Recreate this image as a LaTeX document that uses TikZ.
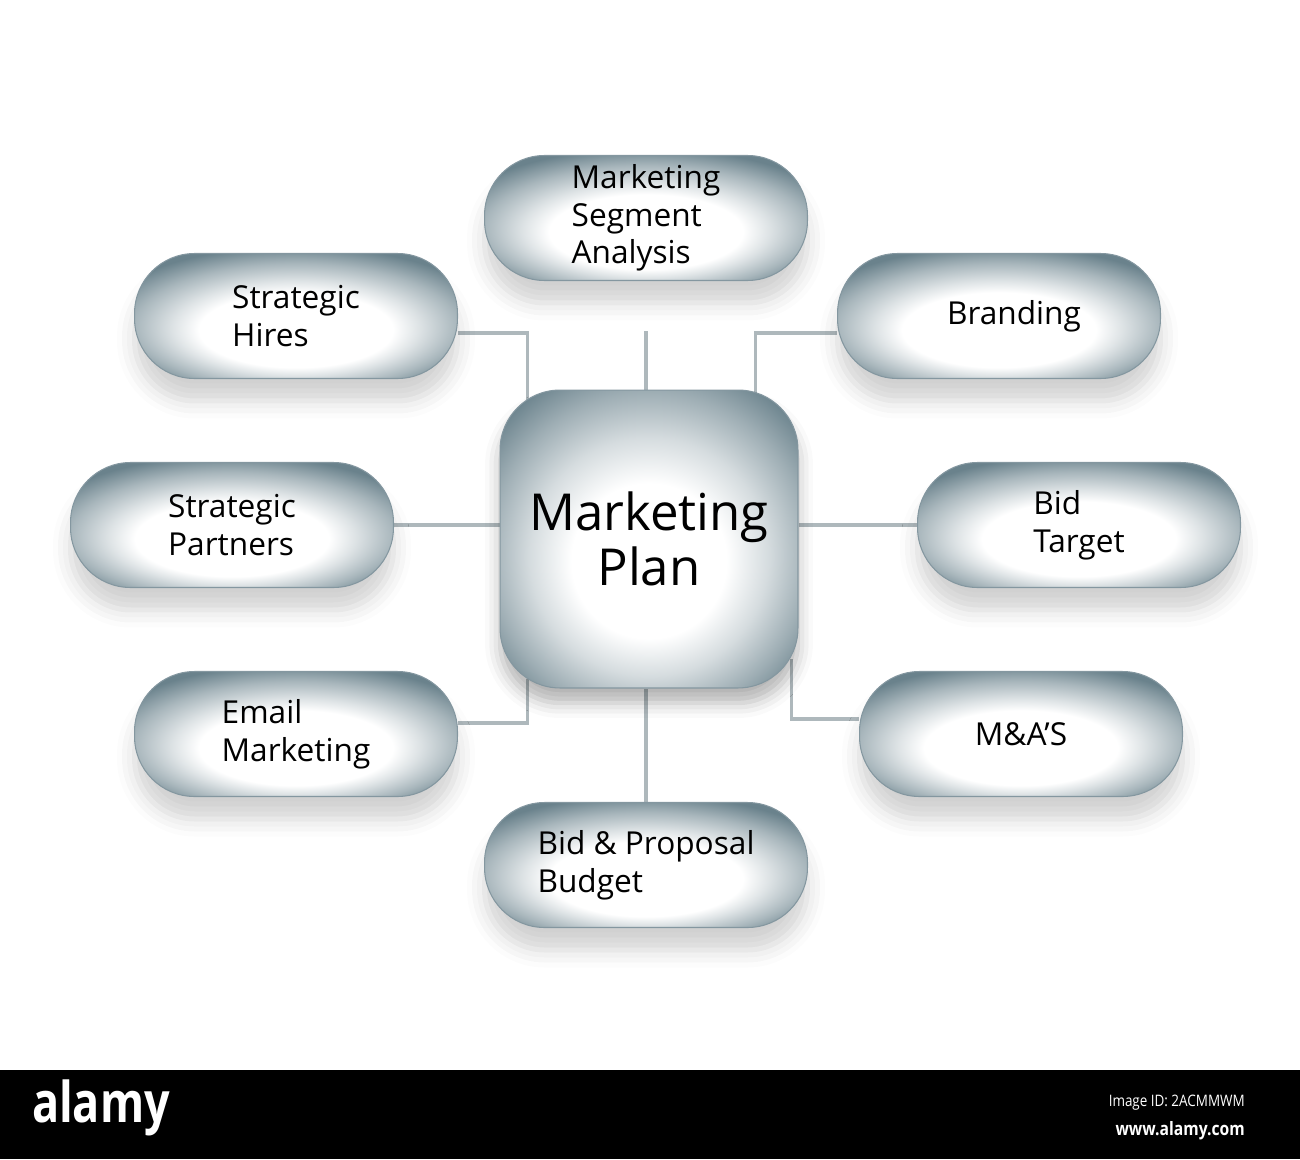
\documentclass[tikz,border=0pt]{standalone}
\usepackage{fontspec}
\setmainfont{Open Sans}
\usetikzlibrary{positioning, backgrounds, shadows.blur}

\definecolor{pilldark}{HTML}{6A828C}
\definecolor{pilledge}{HTML}{8497A0}
\definecolor{linkgray}{HTML}{AEB8BC}

\pgfdeclareradialshading{pillshade}{\pgfpoint{0bp}{-8bp}}{color(0bp)=(white); color(15bp)=(white); color(19bp)=(pilldark!22); color(25bp)=(pilldark!58); color(31bp)=(pilldark); color(50bp)=(pilldark)}
\pgfdeclareradialshading{hubshade}{\pgfpoint{0bp}{-5bp}}{color(0bp)=(white); color(13bp)=(white); color(20bp)=(pilldark!28); color(27bp)=(pilldark!65); color(33bp)=(pilldark); color(50bp)=(pilldark)}

\tikzset{
  pill/.style={rectangle, rounded corners=1.2cm, minimum width=6.46cm, minimum height=2.5cm,
    shade, shading=pillshade, draw=pilledge, line width=0.6pt, align=left,
    font=\fontsize{18}{21.5}\selectfont,
    blur shadow={shadow xshift=0cm, shadow yshift=-0.45cm, shadow blur radius=0.35cm, shadow opacity=18}},
  hub/.style={rectangle, rounded corners=1.2cm, minimum width=5.96cm, minimum height=5.96cm,
    shade, shading=hubshade, draw=pilledge, line width=0.6pt, align=center,
    font=\fontsize{29}{31.5}\selectfont,
    blur shadow={shadow xshift=0cm, shadow yshift=-0.3cm, shadow blur radius=0.3cm, shadow opacity=30}},
  link/.style={draw=linkgray, line width=1.8pt}
}

\begin{document}
\begin{tikzpicture}[x=0.02cm, y=-0.02cm]
    \useasboundingbox (0,0) rectangle (1300,1159);

    % Centre box
    \node[hub] (plan) at (649,539) {Marketing\\Plan};

    % Surrounding pills
    \node[pill] (seg)   at (646,218)  {Marketing\\Segment\\Analysis};
    \node[pill] (hires) at (296,316)  {Strategic\\Hires};
    \node[pill] (brand) at (999,316)  {\hspace*{0.6cm}Branding};
    \node[pill] (partn) at (232,525)  {Strategic\\Partners};
    \node[pill] (bidt)  at (1079,525) {Bid\\Target};
    \node[pill] (email) at (296,734)  {Email\\Marketing};
    \node[pill] (mna)   at (1021,734) {M\&A’S};
    \node[pill] (bidp)  at (646,865)  {Bid \& Proposal\\Budget};

    % Connectors behind the boxes
    \begin{scope}[on background layer]
        \draw[link] ([yshift=-1cm]seg.south) -- (seg.south |- plan.north);
        \draw[link] ([yshift=-0.34cm]hires.east) -| ([xshift=0.56cm, yshift=-0.2cm]plan.north west);
        \draw[link] ([yshift=-0.34cm]brand.west) -| ([xshift=-0.86cm, yshift=-0.2cm]plan.north east);
        \draw[link] (partn.east) -- (partn.east -| plan.west);
        \draw[link] (bidt.west) -- (bidt.west -| plan.east);
        \draw[link] ([yshift=0.22cm]email.east) -| ([xshift=0.56cm, yshift=0.2cm]plan.south west);
        \draw[link] ([yshift=0.3cm]mna.west) -| ([xshift=-0.14cm, yshift=0.6cm]plan.south east);
        \draw[link] (bidp.north) -- (bidp.north |- plan.south);
    \end{scope}

    % Footer band
    \fill[black] (0,1070) rectangle (1300,1159);
    \node[white, font=\fontsize{32}{32}\bfseries, xscale=0.8] (logo) at (101,1108) {alamy};
    \node[white, font=\fontsize{9}{9}\selectfont, xscale=0.85, anchor=east] (imgid) at (1250,1103) {Image ID: 2ACMMWM};
    \node[white, font=\fontsize{10.5}{10.5}\bfseries, xscale=0.85, anchor=east] (site) at (1250,1131) {www.alamy.com};
\end{tikzpicture}
\end{document}
